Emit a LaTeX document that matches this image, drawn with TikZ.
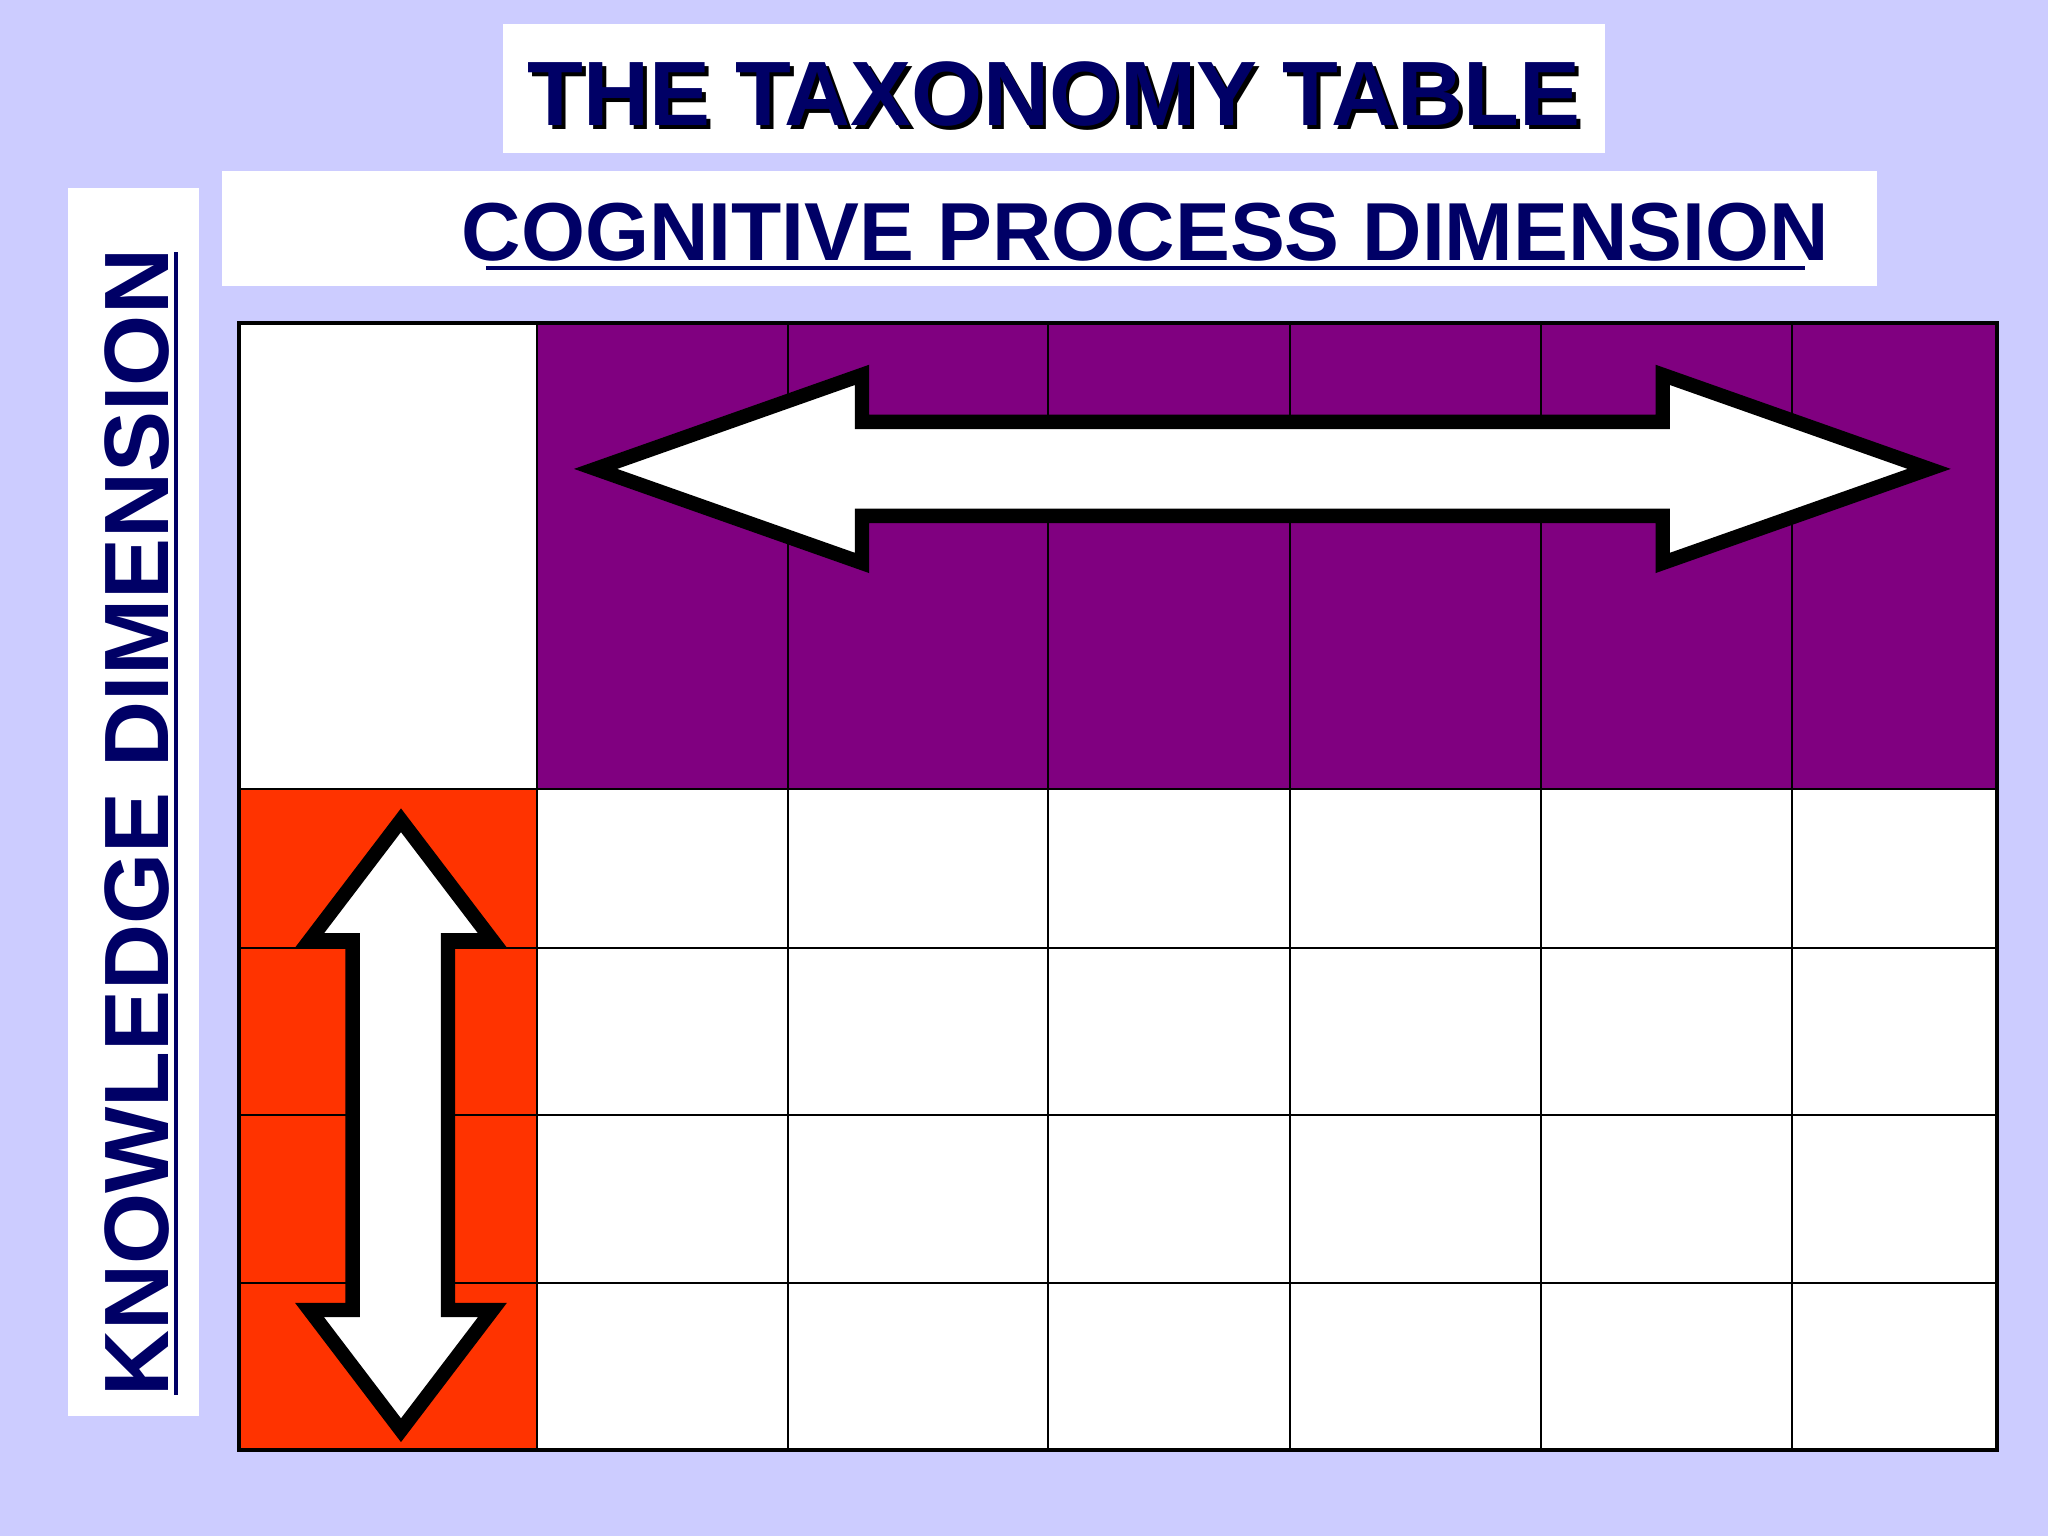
\documentclass[tikz,border=0pt]{standalone}
\usepackage{fontspec}
\setmainfont{Liberation Sans}
\definecolor{bg}{RGB}{204,204,255}
\definecolor{navy}{RGB}{0,0,102}
\definecolor{purp}{RGB}{128,0,128}
\definecolor{redo}{RGB}{255,51,0}
\tikzset{grid line/.style={black,line width=1.5},
 bigarrow/.style={fill=white,draw=black,line width=11,line join=miter},
 ttl/.style={font=\bfseries\fontsize{70}{80}\selectfont,inner sep=0}}
\begin{document}
\begin{tikzpicture}[x=1pt,y=-1pt]
\fill[bg] (0,0) rectangle (1568,1176);
\useasboundingbox (0,0) rectangle (1568,1176);
% title
\fill[white] (385,18) rectangle (1229,117);
\node[ttl,black] at (810,75) {THE TAXONOMY TABLE};
\node[ttl,navy] (title) at (807,72) {THE TAXONOMY TABLE};
% subtitle
\fill[white] (170,131) rectangle (1437,219);
\node[font=\bfseries\fontsize{63}{70}\selectfont,navy,inner sep=0] (sub) at (877,178) {COGNITIVE PROCESS DIMENSION};
\draw[navy,line width=3] (372,205) -- (1382,205);
% left
\fill[white] (52,144) rectangle (152,1084);
\node[font=\bfseries\fontsize{70}{80}\selectfont,navy,inner sep=0,rotate=90] (kd) at (105,630) {KNOWLEDGE DIMENSION};
\draw[navy,line width=3] (135,193) -- (135,1068);
% table
\fill[white] (183,247) rectangle (1529,1110);
\fill[purp] (411,247) rectangle (1529,604);
\fill[redo] (183,604) rectangle (411,1110);
\foreach \x in {411,603,802,988,1180,1372} \draw[grid line] (\x,247) -- (\x,1110);
\foreach \y in {604,726,854,982} \draw[grid line] (183,\y) -- (1529,\y);
\draw[black,line width=3] (183,247) rectangle (1529,1110);
% horizontal arrow
\draw[bigarrow] (456,359) -- (660,287) -- (660,323) -- (1273,323) -- (1273,287) -- (1477,359) -- (1273,431) -- (1273,395) -- (660,395) -- (660,431) -- cycle;
% vertical arrow
\draw[bigarrow] (307,628) -- (377,720) -- (343,720) -- (343,1003) -- (377,1003) -- (307,1095) -- (237,1003) -- (270,1003) -- (270,720) -- (237,720) -- cycle;
\end{tikzpicture}
\end{document}
